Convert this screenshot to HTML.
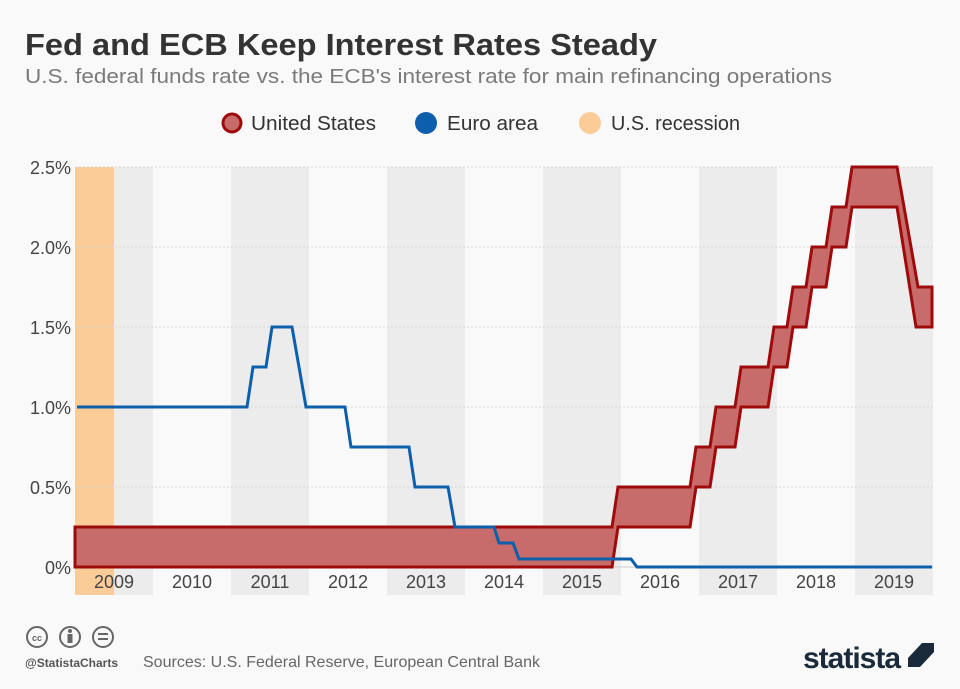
<!DOCTYPE html>
<html><head><meta charset="utf-8"><style>
body{margin:0;width:960px;height:684px;background:#f9f9f9;font-family:"Liberation Sans",sans-serif;overflow:hidden}
</style></head><body>
<svg width="960" height="684" xmlns="http://www.w3.org/2000/svg" font-family="Liberation Sans, sans-serif">
<text x="25" y="55" font-size="31" font-weight="bold" fill="#333" textLength="632" lengthAdjust="spacingAndGlyphs">Fed and ECB Keep Interest Rates Steady</text>
<text x="25" y="83" font-size="20" fill="#7a7a7a" textLength="807" lengthAdjust="spacingAndGlyphs">U.S. federal funds rate vs. the ECB's interest rate for main refinancing operations</text>
<circle cx="232" cy="123" r="9" fill="#c86b6b" stroke="#9e0b0b" stroke-width="3"/>
<text x="251" y="130" font-size="20" fill="#333" textLength="125" lengthAdjust="spacingAndGlyphs">United States</text>
<circle cx="426" cy="123" r="11" fill="#0d5fab"/>
<text x="447" y="130" font-size="20" fill="#333" textLength="91" lengthAdjust="spacingAndGlyphs">Euro area</text>
<circle cx="590" cy="123" r="11" fill="#fbcb98"/>
<text x="611" y="130" font-size="20" fill="#333" textLength="129" lengthAdjust="spacingAndGlyphs">U.S. recession</text>
<g fill="#ececec">
<rect x="114" y="167" width="39" height="428"/>
<rect x="231" y="167" width="78" height="428"/>
<rect x="387" y="167" width="78" height="428"/>
<rect x="543" y="167" width="78" height="428"/>
<rect x="699" y="167" width="78" height="428"/>
<rect x="855" y="167" width="78" height="428"/>
</g>
<rect x="75" y="167" width="39" height="428" fill="#fbcb98"/>
<g stroke="#d8d8d8" stroke-dasharray="2,2" stroke-width="1">
<line x1="75" x2="933" y1="167" y2="167"/><line x1="75" x2="933" y1="247" y2="247"/>
<line x1="75" x2="933" y1="327" y2="327"/><line x1="75" x2="933" y1="407" y2="407"/>
<line x1="75" x2="933" y1="487" y2="487"/>
</g>
<line x1="75" x2="933" y1="567" y2="567" stroke="#ccc"/>
<g font-size="18" fill="#444" text-anchor="end">
<text x="71" y="174">2.5%</text><text x="71" y="254">2.0%</text><text x="71" y="334">1.5%</text>
<text x="71" y="414">1.0%</text><text x="71" y="494">0.5%</text><text x="71" y="574">0%</text>
</g>
<g font-size="18" fill="#444" text-anchor="middle">
<text x="114" y="588">2009</text><text x="192" y="588">2010</text><text x="270" y="588">2011</text>
<text x="348" y="588">2012</text><text x="426" y="588">2013</text><text x="504" y="588">2014</text>
<text x="582" y="588">2015</text><text x="660" y="588">2016</text><text x="738" y="588">2017</text>
<text x="816" y="588">2018</text><text x="894" y="588">2019</text>
</g>
<path d="M75,527 L612,527 L618,487 L690,487 L696,447 L710,447 L716,407 L735,407 L741,367 L768,367 L774,327 L787,327 L793,287 L806,287 L812,247 L826,247 L832,207 L846,207 L852,167 L897,167 L918,287 L932,287 L932,327 L916,327 L897,207 L852,207 L846,247 L832,247 L826,287 L812,287 L806,327 L793,327 L787,367 L774,367 L768,407 L741,407 L735,447 L716,447 L710,487 L696,487 L690,527 L618,527 L612,567 L75,567 Z" fill="#c86b6b" stroke="#9e0b0b" stroke-width="3" stroke-linejoin="miter"/>
<polyline points="77,407 247,407 253,367 266,367 272,327 292,327 306,407 345,407 351,447 409,447 415,487 448,487 455,527 494,527 499,543 513,543 519,559 631,559 637,567 932,567" fill="none" stroke="#0d5fab" stroke-width="3"/>
<g fill="none" stroke="#666" stroke-width="2">
<circle cx="37" cy="637" r="10"/><circle cx="70" cy="637" r="10"/><circle cx="103" cy="637" r="10"/>
</g>
<text x="37" y="641" font-size="9" font-weight="bold" fill="#666" text-anchor="middle">cc</text>
<circle cx="70" cy="631" r="2" fill="#666"/><rect x="67.5" y="634" width="5" height="9" fill="#666"/>
<rect x="98" y="633" width="10" height="2" fill="#666"/><rect x="98" y="638" width="10" height="2" fill="#666"/>
<text x="25" y="667" font-size="12" font-weight="bold" fill="#555" textLength="93" lengthAdjust="spacingAndGlyphs">@StatistaCharts</text>
<text x="143" y="667" font-size="16" fill="#666" textLength="397" lengthAdjust="spacingAndGlyphs">Sources: U.S. Federal Reserve, European Central Bank</text>
<text x="803" y="668" font-size="30" font-weight="bold" fill="#1a2a3a" letter-spacing="-1">statista</text>
<path d="M908,643 L934,643 L934,652 L920,667 L908,667 L908,658 L922,643 Z" fill="#1a2a3a"/>
</svg>
</body></html>
